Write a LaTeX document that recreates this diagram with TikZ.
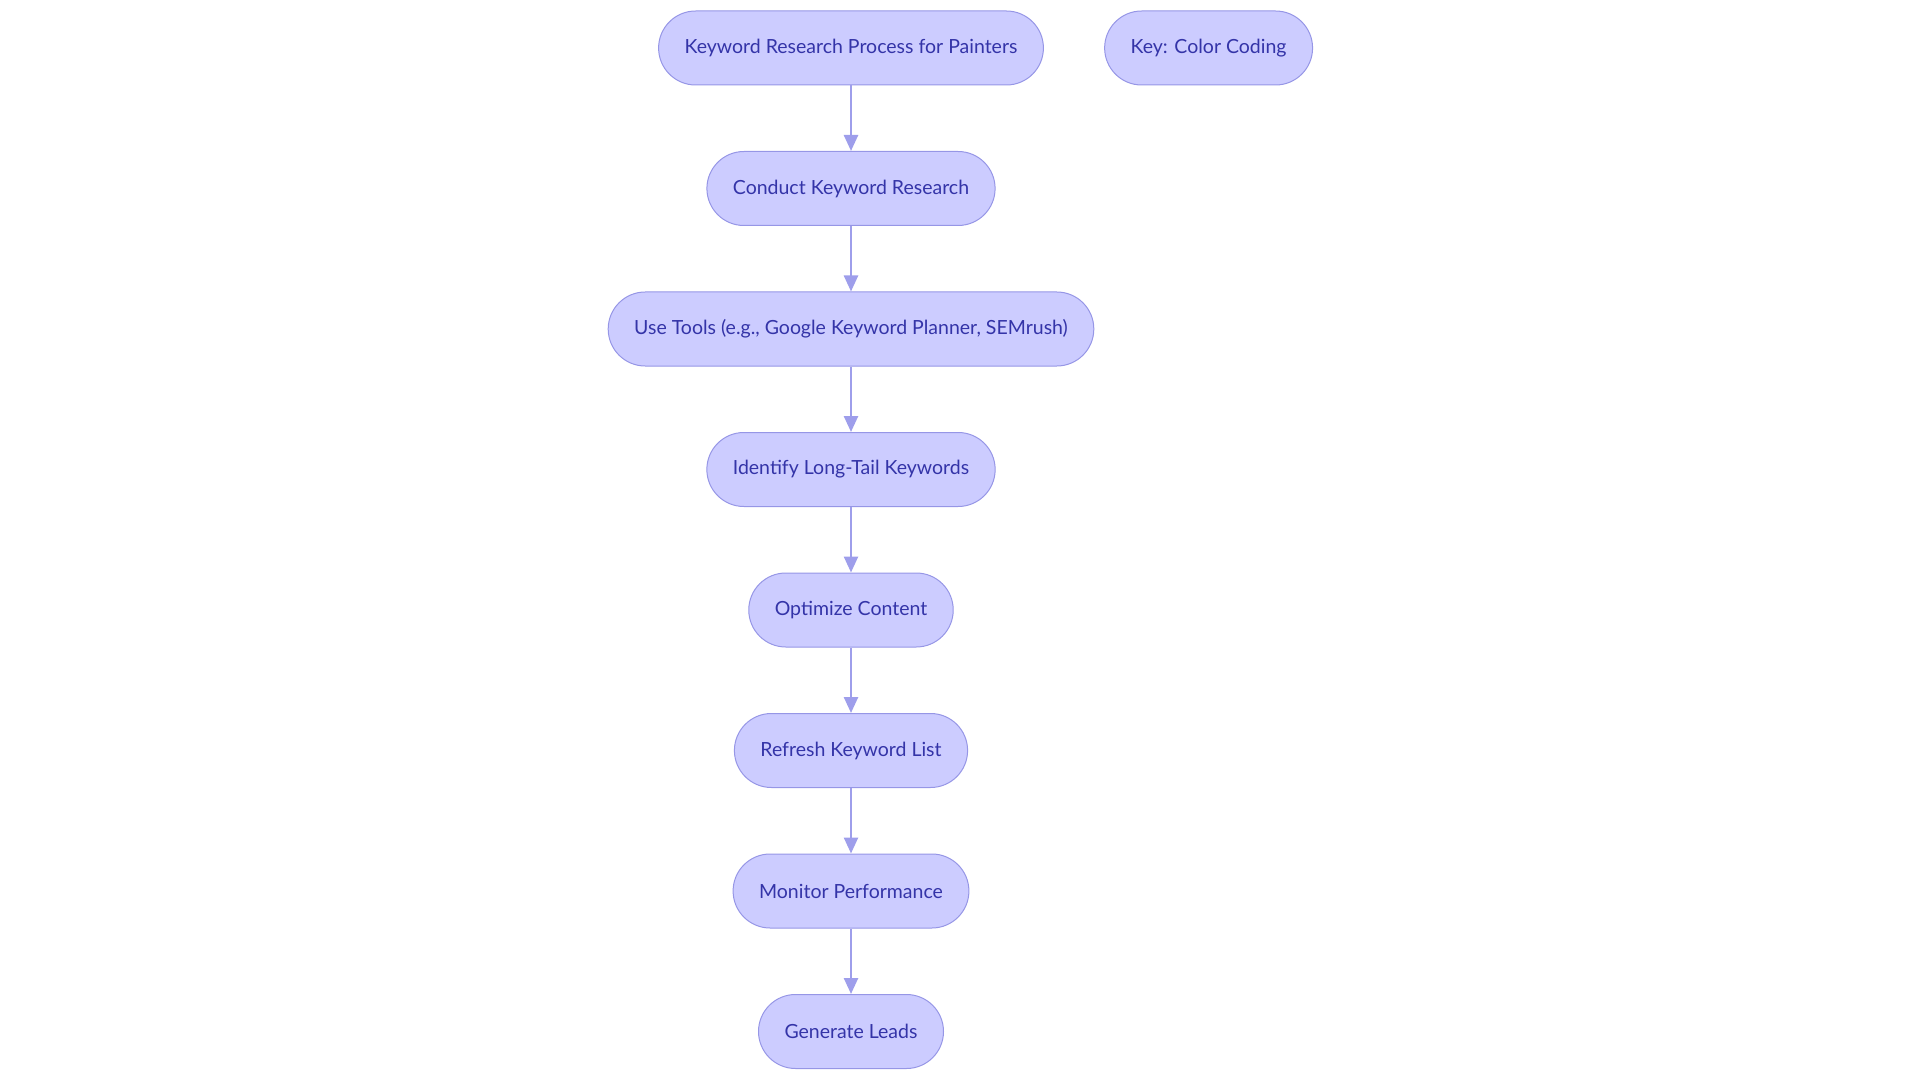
\documentclass[tikz,border=0pt]{standalone}
\usepackage{fontspec}
\setmainfont{Lato}
\usetikzlibrary{arrows.meta}
\definecolor{stepfill}{RGB}{204,204,255}
\definecolor{stepline}{RGB}{150,150,230}
\definecolor{steptext}{RGB}{52,52,168}
\definecolor{arrowcol}{RGB}{158,158,235}
\begin{document}
\begin{tikzpicture}[
  x=1pt, y=1pt,
  node distance=140.5pt,
  every node/.style={draw=stepline, fill=stepfill, text=steptext, line width=1pt,
    rounded corners=37pt, minimum height=74pt, inner xsep=26pt,
    font=\fontsize{19.5}{23}\selectfont},
  arrow/.style={-{Triangle[width=14pt,length=16pt]}, draw=arrowcol, line width=2.5pt}
]
\useasboundingbox (0,0) rectangle (1920,-1083);
\node (a) at (851,-48) {Keyword Research Process for Painters};
\node (key) [right of=a, node distance=357.6pt] {Key: Color Coding};
\node (b) [below of=a] {Conduct Keyword Research};
\node (c) [below of=b] {Use Tools (e.g., Google Keyword Planner, SEMrush)};
\node (d) [below of=c] {Identify Long-Tail Keywords};
\node (e) [below of=d] {Optimize Content};
\node (f) [below of=e] {Refresh Keyword List};
\node (g) [below of=f] {Monitor Performance};
\node (h) [below of=g] {Generate Leads};
\draw[arrow] (a) -- (b);
\draw[arrow] (b) -- (c);
\draw[arrow] (c) -- (d);
\draw[arrow] (d) -- (e);
\draw[arrow] (e) -- (f);
\draw[arrow] (f) -- (g);
\draw[arrow] (g) -- (h);
\end{tikzpicture}
\end{document}
